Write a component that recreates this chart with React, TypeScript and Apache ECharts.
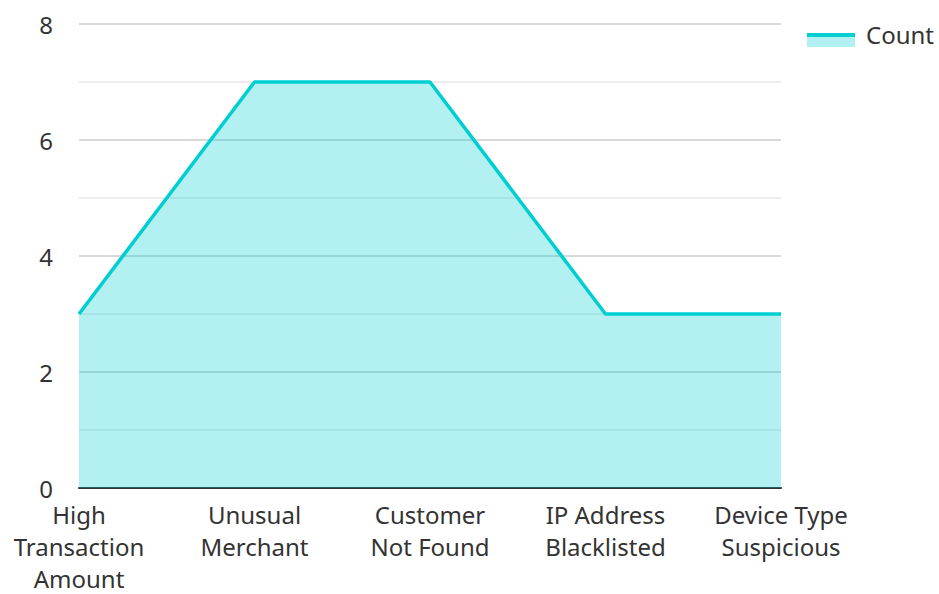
import React, { useEffect, useRef } from "react";
import * as echarts from "echarts";

const categories = [
  "High\nTransaction\nAmount",
  "Unusual\nMerchant",
  "Customer\nNot Found",
  "IP Address\nBlacklisted",
  "Device Type\nSuspicious",
];
const counts = [3, 7, 7, 3, 3];
const seriesName = "Count";

export default function App() {
  const ref = useRef<HTMLDivElement>(null);
  useEffect(() => {
    document.body.style.margin = "0";
    document.body.style.overflow = "hidden";
    if (!ref.current) return;
    const chart = echarts.init(ref.current, null, { renderer: "svg" });
    const font = "'Noto Sans', sans-serif";
    chart.setOption({
      animation: false,
      textStyle: { fontFamily: font },
      grid: { left: 79, right: 158, top: 24, bottom: 102 },
      legend: {
        show: true,
        right: 0,
        top: 17,
        icon: "rect",
        itemWidth: 48,
        itemHeight: 14,
        itemGap: 10,
        itemStyle: { color: "rgba(0,0,0,0)", borderWidth: 0 },
        lineStyle: { width: 0 },
        textStyle: { fontSize: 24, color: "#333", fontFamily: font, padding: [0, 0, 0, 6] },
        data: [seriesName],
      },
      graphic: [
        {
          type: "rect",
          left: 807,
          top: 33,
          shape: { width: 48, height: 14 },
          style: { fill: "#00CED1", opacity: 0.3 },
          z: 100,
        },
        {
          type: "rect",
          left: 807,
          top: 33,
          shape: { width: 48, height: 4 },
          style: { fill: "#00CED1" },
          z: 101,
        },
      ],
      xAxis: {
        type: "category",
        data: categories,
        boundaryGap: false,
        axisLine: { show: true, lineStyle: { color: "#333", width: 2 } },
        axisTick: { show: false },
        axisLabel: {
          fontSize: 24,
          lineHeight: 32,
          color: "#333",
          margin: 10,
          interval: 0,
          fontFamily: font,
        },
        splitLine: { show: false },
      },
      yAxis: {
        type: "value",
        min: 0,
        max: 8,
        interval: 2,
        axisLine: { show: false },
        axisTick: { show: false },
        axisLabel: { fontSize: 24, color: "#333", margin: 26, fontFamily: font },
        splitLine: { show: true, lineStyle: { color: "#cccccc", width: 1.5 } },
        minorTick: { show: false, splitNumber: 2 },
        minorSplitLine: { show: true, lineStyle: { color: "#e6e6e6", width: 1.5 } },
      },
      series: [
        {
          name: seriesName,
          type: "line",
          data: counts,
          symbol: "none",
          lineStyle: { color: "#00CED1", width: 3.5 },
          itemStyle: { color: "#00CED1" },
          areaStyle: { color: "#00CED1", opacity: 0.3 },
        },
      ],
    });
    return () => chart.dispose();
  }, []);
  return <div ref={ref} style={{ width: 939, height: 594 }} />;
}
